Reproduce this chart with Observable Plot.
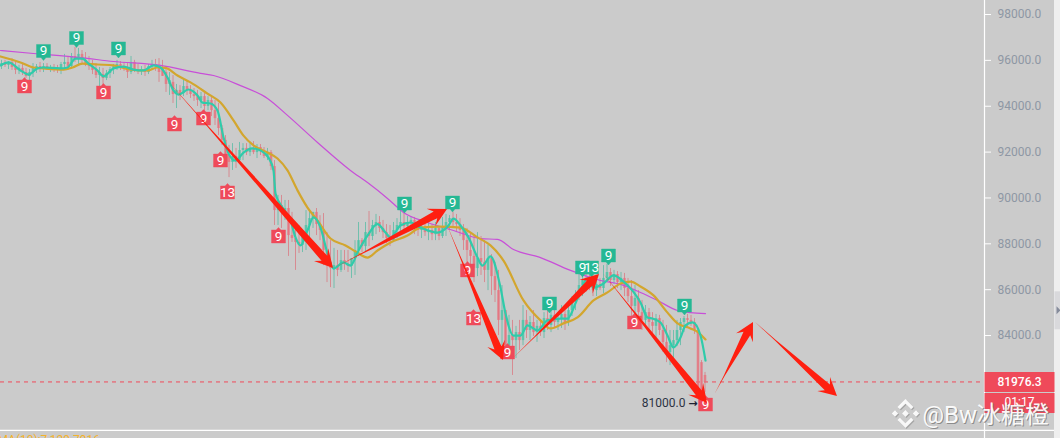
<!DOCTYPE html>
<html><head><meta charset="utf-8">
<style>html,body{margin:0;padding:0;background:#cbcbcb;overflow:hidden}svg{display:block}</style>
<script src="https://cdn.jsdelivr.net/npm/d3@7"></script>
<script src="https://cdn.jsdelivr.net/npm/@observablehq/plot@0.6"></script>
</head><body><div id="chart"></div>
<script>
const priceTicks = [98000,96000,94000,92000,90000,88000,86000,84000];
const lastPrice = 81976.3;
const countdown = "01:17";
const lowPrice = "81000.0";
const lowPointer = "→";
const maLabel = "MA(10):7,129.7916";

const opens = [
95730,95860,95780,95910,95690,95560,95650,95470,95300,95470,
95650,95730,95600,95730,95650,95690,95600,95560,95820,95910,
95730,96170,96040,96260,96000,95860,95730,95560,95340,95380,
95210,95430,95600,95730,95820,95730,95650,95470,95910,95560,
95510,95600,95470,95730,95820,95730,
95650,95470,94950,95040,94510,94690,94550,94860,94690,94510,
94420,94250,94420,93990,94250,93810,93460,93030,92510,91850,
91550,91810,91630,92070,92160,91980,92160,91980,92200,92030,
91810,91980,91370,89450,89670,89370,89540,88360,88230,88060,
87930,88360,88800,89100,89370,88840,88580,87710,87190,86920,
87050,86840,87270,87100,87010,87360,87710,88140,87880,88490,
88320,88800,88930,88670,88490,88230,88140,88580,88800,88930,
88750,88930,89020,88670,88580,88750,88490,88580,88400,88670,
88320,88750,88930,89100,88930,88840,88580,88140,87710,87450,
86920,87360,87190,86840,87360,86570,85960,84660,85090,83560,
84000,83780,84130,83780,84660,84220,84570,84130,84400,84130,
84740,84440,84880,84570,84740,84920,84570,85090,85530,85700,
86180,86400,86310,86140,85960,86230,86050,86490,86750,86400,
86660,86310,86490,86050,85700,85270,85620,85000,84660,85000,
84570,84400,84740,84220,83700,83260,83560,83780,84220,84570,
84740,84660,84570,84220,82820,82260];
const highs = [
96000,96000,95950,96080,95910,95780,95820,95650,95600,95860,
95820,95910,95860,95860,95780,95820,95780,95910,96260,96170,
96300,96560,96520,96430,96340,96170,96000,95860,95690,95650,
95560,95690,95820,96000,95950,95910,95860,96170,96000,95820,
95730,95780,95820,96000,96040,96080,
96000,95730,95470,95340,94950,94900,95210,95120,94900,94770,
94690,94600,94550,94420,94420,94250,94120,93160,92720,92290,
92370,92160,92420,92370,92370,92420,92460,92330,92330,92200,
92160,92070,91630,90110,90110,89890,89890,89370,88930,88800,
88580,89450,89450,89370,89540,89230,89320,88490,88140,87800,
87710,87710,87710,87710,87360,88140,88930,88230,88930,89410,
89020,89280,89190,89020,88840,88800,88930,89100,89630,89320,
89190,89190,89150,88970,88930,89020,88930,88840,88930,88750,
89150,89280,89230,89370,89280,89100,88840,88670,88490,88320,
88490,88320,88140,87930,87530,87190,86840,86180,85090,84880,
84660,84400,84660,85310,85090,84830,85090,84660,84660,85000,
85530,85620,85090,85000,85310,85090,85270,85700,85960,86750,
86750,86750,86620,86490,86400,86490,87050,87100,86920,86840,
86790,86750,86710,86490,86400,86180,85960,85530,85310,85180,
85000,84920,84880,84660,84440,84220,84220,84660,84740,84830,
84920,84880,84740,84310,82910,82390];
const lows = [
95600,95690,95600,95560,95380,95380,95340,95210,95080,95250,
95430,95470,95470,95560,95470,95470,95430,95380,95650,95560,
95650,95910,95820,95820,95730,95560,95380,95210,94860,94900,
95120,95210,95380,95560,95560,95520,95210,95380,95470,95380,
95340,95300,95380,95560,95520,95040,
95300,94600,94470,94120,93900,94250,94420,94470,94340,94210,
93990,93900,93730,93810,93550,93160,92720,92290,91630,90890,
91200,91290,91460,91630,91850,91810,91890,91720,91850,91720,
91630,91200,88800,88800,88670,89020,87450,88060,86840,87580,
87620,87710,88140,88670,88360,88140,87050,86310,86090,86050,
86570,86750,86840,86750,86490,86620,87450,87620,87620,87880,
88140,88400,88490,88230,88010,87880,88060,88230,88400,88490,
88580,88670,88400,88320,88230,88320,88140,88140,88140,88140,
88230,88320,88580,88750,88490,88320,87710,87190,86840,86310,
86570,86620,86310,85960,85750,85440,84000,83560,83000,83000,
82260,83000,83350,83560,83870,83780,83960,83700,83960,83870,
84220,84130,84310,84220,84310,84220,84400,84830,85090,85530,
85700,85880,85960,85700,85700,85960,85830,86310,86140,86230,
86050,85960,85700,85440,84830,84660,84570,84220,84310,84220,
84050,83870,84000,83260,82820,82690,82910,83520,83560,84130,
84310,84400,84050,81520,81000,81520];
const closes = [
95860,95780,95910,95690,95560,95650,95470,95300,95470,95650,
95730,95600,95730,95650,95690,95600,95560,95820,95910,95730,
96170,96040,96260,96000,95860,95730,95560,95340,95470,95210,
95430,95600,95730,95820,95730,95650,95470,95910,95560,95510,
95600,95470,95730,95820,95730,95470,
95300,94950,95120,94510,94690,94550,94860,94690,94510,94420,
94250,94420,93990,94250,93810,93460,93030,92510,91850,91550,
91810,91630,92070,92160,91980,92160,91980,92200,92030,91810,
91980,91370,89450,89670,89370,89540,88360,88230,88060,87930,
88360,88800,89100,89370,88840,88580,87710,87190,86920,87050,
86840,87270,87100,87010,87360,87710,88140,87880,88490,88320,
88800,88930,88670,88490,88230,88140,88580,88800,88930,88750,
88930,89020,88670,88580,88750,88490,88580,88400,88670,88320,
88750,88930,89100,88930,88840,88580,88140,87710,87450,86920,
87360,87190,86840,87360,86570,85960,84660,85090,83560,84000,
83780,84130,83780,84660,84220,84570,84130,84400,84130,84740,
84440,84880,84570,84740,84920,84570,85090,85530,85700,86180,
86400,86310,86140,85960,86230,86050,86490,86750,86400,86660,
86310,86490,86050,85700,85270,85620,85000,84660,85000,84570,
84400,84740,84220,83700,83260,83560,83780,84220,84570,84740,
84660,84570,84220,81600,81520,81950];

const fastTimes = [0,8,20,28,37,43,60,67,75,82,88,97,103,113,123,133,143,153,160,167,173,178,188,197,202,210,217,223,228,235,243,252,260,268,273,275,282,290,295,300,307,313,320,327,333,343,350,358,367,377,385,390,400,410,420,437,448,453,460,468,477,482,490,500,505,513,520,527,537,547,560,567,577,587,593,603,613,623,632,640,647,652,660,667,673,680,685,692,700,705];
const fastPrices = [95780,95910,95560,95380,95650,95690,95650,95690,96080,96080,95860,95560,95300,95650,95730,95600,95560,95780,95690,95250,94690,94510,94730,94470,94160,94120,93810,92640,91940,91630,91980,92160,92070,91760,91200,90190,89580,89020,88280,87930,88580,89150,88710,87580,86920,87190,87050,87710,88360,88860,88490,88280,88800,88930,88710,88490,88800,89100,88800,88280,87400,87050,87450,86090,84960,84000,84000,84440,84220,84660,84740,84740,85620,86490,86090,86270,86620,86350,85960,85440,84790,84740,84570,84000,83480,83910,84440,84570,84000,82910];

const slowTimes = [0,20,33,43,63,72,82,97,113,130,147,157,165,177,190,207,220,233,243,253,267,277,287,297,307,317,330,345,355,367,377,390,407,420,440,460,477,490,503,523,540,550,563,577,593,607,620,630,640,653,667,677,690,698,705];
const slowPrices = [96170,95910,95690,95650,95600,95690,95860,95820,95780,95600,95560,95690,95670,95340,95040,94550,94160,93380,92720,92290,91980,91720,91200,90330,89580,89020,88230,87930,87670,87400,87710,88060,88360,88710,88750,88710,88280,87930,87270,85530,84660,84310,84530,84790,85530,85880,86270,86350,86140,85750,85000,84530,84310,84130,83830];

const longTimes = [0,33,80,113,160,200,213,240,267,287,317,350,367,387,403,427,453,480,497,513,540,570,600,620,640,657,677,690,705];
const longPrices = [96430,96300,96120,95950,95780,95430,95340,94900,94340,93600,92420,91200,90670,89980,89370,88930,88580,88230,88190,87750,87400,86840,86400,86230,85880,85530,85090,85000,84960];

const sellBadgeTimes = [43,76,118,404,452,549,582,591,608,684];
const sellBadgePrices = [96410,96975,96520,89760,89800,85400,86970,86970,87490,85310];
const sellBadgeLabels = ["9","9","9","9","9","9","9","13","9","9"];
const buyBadgeTimes = [24,103,174,203,220,227,278,467,473,507,634,705];
const buyBadgePrices = [94860,94600,93200,93460,91630,90240,88320,86840,84740,83260,84570,80990];
const buyBadgeLabels = ["9","9","9","9","9","13","9","9","13","9","9","9"];

const arrowStartTimes = [167,336,447,513,603,715,755];
const arrowStartPrices = [95120,86970,88800,83000,86700,81470,84570];
const arrowEndTimes = [333,447,503,599,707,753,837];
const arrowEndPrices = [86920,89500,82910,86660,81040,84570,81340];

const barStep = 3.5;
const bars = opens.map((o,i)=>({t:1+i*barStep,o,h:highs[i],l:lows[i],c:closes[i]}));
const up = bars.filter(d=>d.c>=d.o), down = bars.filter(d=>d.c<d.o);
const arrows = arrowStartTimes.map((t,i)=>({t1:t,p1:arrowStartPrices[i],t2:arrowEndTimes[i],p2:arrowEndPrices[i]}));
const sellBadges = sellBadgeTimes.map((t,i)=>({t,p:sellBadgePrices[i],s:sellBadgeLabels[i]}));
const buyBadges = buyBadgeTimes.map((t,i)=>({t,p:buyBadgePrices[i],s:buyBadgeLabels[i]}));

const sellSymbol = {draw(c){c.moveTo(-7,-6.5);c.lineTo(7,-6.5);c.lineTo(7,6.5);c.lineTo(2.5,6.5);c.lineTo(0,9.5);c.lineTo(-2.5,6.5);c.lineTo(-7,6.5);c.closePath();}};
const buySymbol = {draw(c){c.moveTo(-7,-6.5);c.lineTo(-2.5,-6.5);c.lineTo(0,-9);c.lineTo(2.5,-6.5);c.lineTo(7,-6.5);c.lineTo(7,6.5);c.lineTo(-7,6.5);c.closePath();}};
const priceBox = {draw(c){c.rect(-35,-10,70,20);}};
const logo = {draw(c){
  const d=(x,y,r)=>{c.moveTo(x,y-r);c.lineTo(x+r,y);c.lineTo(x,y+r);c.lineTo(x-r,y);c.closePath();};
  d(0,0,3.4);d(-10.5,0,3.2);d(10.5,0,3.2);
  const chev=s=>{c.moveTo(0,s*14.5);c.lineTo(8,s*6.5);c.lineTo(5.6,s*4.2);c.lineTo(0,s*9.8);c.lineTo(-5.6,s*4.2);c.lineTo(-8,s*6.5);c.closePath();};
  chev(-1);chev(1);
}};

function taperedArrow(index,scales,values){
  const g=d3.create("svg:g");
  for(const i of index){
    const x1=values.x1[i],y1=values.y1[i],x2=values.x2[i],y2=values.y2[i];
    const L=Math.hypot(x2-x1,y2-y1),a=Math.atan2(y2-y1,x2-x1),cs=Math.cos(a),sn=Math.sin(a);
    const pts=[[0,0],[L*.25,.5],[L-13,3.8],[L-18,9.5],[L,0],[L-18,-9.5],[L-13,-3.8],[L*.25,-.5]].map(([u,v])=>[x1+u*cs-v*sn,y1+u*sn+v*cs].join(","));
    g.append("polygon").attr("points",pts.join(" ")).attr("fill","#ff1f10");
  }
  return g.node();
}

const tickColor="#8e97a4", font="Roboto, sans-serif";
const chart=Plot.plot({
  width:1060,height:438,marginTop:0,marginBottom:0,marginLeft:0,marginRight:76,
  style:{background:"#cbcbcb",fontFamily:font},
  x:{domain:[0,984],range:[0,984],axis:null},
  y:{domain:[79510,98611],range:[438,0],axis:null},
  marks:[
    Plot.rect([0],{x1:1054,x2:1060,fill:"#efefef"}),
    Plot.dot([0],{x:1060,y:85100,symbol:{draw(c){c.rect(-6,-19,6,38);}},fill:"#d9d9dc"}),
    Plot.dot([0],{x:1057.5,y:85100,symbol:{draw(c){c.moveTo(-1.5,-4);c.lineTo(2.5,0);c.lineTo(-1.5,4);c.closePath();}},fill:"#858b9b"}),
    Plot.ruleX([984],{stroke:"#ffffff",strokeWidth:1.2}),
    Plot.ruleY([79860],{x1:0,x2:1054,stroke:"#ffffff",strokeWidth:1.2}),
    Plot.axisY({anchor:"right",ticks:priceTicks,tickFormat:d=>d.toFixed(1),stroke:"#ffffff",fill:tickColor,tickSize:6,tickPadding:7,fontSize:12,label:null,textStroke:"none"}),
    Plot.ruleY([lastPrice],{x1:0,x2:984,stroke:"#f04a5a",strokeWidth:1,strokeDasharray:"4,4"}),

    Plot.ruleX(down,{x:"t",y1:"l",y2:"h",stroke:"#e0606c",strokeWidth:1,strokeOpacity:.6}),
    Plot.ruleX(up,{x:"t",y1:"l",y2:"h",stroke:"#35b899",strokeWidth:1,strokeOpacity:.6}),
    Plot.ruleX(down,{x:"t",y1:"o",y2:"c",stroke:"#e8707c",strokeWidth:2.6,strokeOpacity:.75}),
    Plot.ruleX(up,{x:"t",y1:"o",y2:"c",stroke:"#45c4a6",strokeWidth:2.6,strokeOpacity:.75}),

    Plot.line(longPrices,{x:longTimes,y:longPrices,stroke:"#c84fd8",strokeWidth:1.2,curve:"monotone-x"}),
    Plot.line(slowPrices,{x:slowTimes,y:slowPrices,stroke:"#d3a62e",strokeWidth:2.2,curve:"monotone-x"}),
    Plot.line(fastPrices,{x:fastTimes,y:fastPrices,stroke:"#2fcbaa",strokeWidth:2.2,curve:"monotone-x"}),

    Plot.dot(sellBadges,{x:"t",y:"p",r:7,symbol:sellSymbol,fill:"#25b894",stroke:"#25b894",strokeOpacity:.4,strokeWidth:1}),
    Plot.text(sellBadges,{x:"t",y:"p",text:"s",fill:"#ffffff",fontSize:13.5,fontFamily:font}),
    Plot.dot(buyBadges,{x:"t",y:"p",r:7,symbol:buySymbol,fill:"#ef4a5a",stroke:"#ef4a5a",strokeOpacity:.4,strokeWidth:1}),
    Plot.text(buyBadges,{x:"t",y:"p",text:"s",fill:"#ffffff",fontSize:13.5,fontFamily:font}),

    Plot.text([lowPrice],{x:685,y:81040,text:d=>d,textAnchor:"end",fill:"#2b3344",fontSize:12,fontFamily:font}),
    Plot.text([lowPointer],{x:697,y:81040,text:d=>d,textAnchor:"end",fill:"#1c2233",fontSize:11,fontWeight:700,fontFamily:"DejaVu Sans"}),

    Plot.link(arrows,{x1:"t1",y1:"p1",x2:"t2",y2:"p2",stroke:"#ff1f10",render:taperedArrow}),

    Plot.dot([0],{x:1019,y:lastPrice,symbol:priceBox,fill:"#ef4a5a"}),
    Plot.dot([0],{x:1019,y:lastPrice,symbol:priceBox,fill:"#ef4a5a",dy:21}),
    Plot.text([lastPrice],{x:1019,y:lastPrice,text:d=>d.toFixed(1),fill:"#ffffff",fontSize:12,fontWeight:500,fontFamily:font}),
    Plot.text([countdown],{x:1019,y:lastPrice,dy:20,text:d=>d,fill:"#ffffff",fontSize:12,fontFamily:font}),

    Plot.dot([0],{x:905,y:80600,dx:1,dy:1,symbol:logo,fill:"#8c8c8c",fillOpacity:.6}),
    Plot.dot([0],{x:905,y:80600,symbol:logo,fill:"#ffffff",fillOpacity:.92}),
    Plot.text(["@Bw冰糖橙"],{x:922,y:80500,dx:1,dy:1,text:d=>d,textAnchor:"start",fill:"#777777",fillOpacity:.75,fontSize:24,fontFamily:"Roboto, 'Noto Sans CJK SC', sans-serif"}),
    Plot.text(["@Bw冰糖橙"],{x:922,y:80500,text:d=>d,textAnchor:"start",fill:"#ffffff",fillOpacity:.95,fontSize:24,fontFamily:"Roboto, 'Noto Sans CJK SC', sans-serif"}),

    Plot.text([maLabel],{frameAnchor:"bottom-left",dx:-3,dy:5,text:d=>d,fill:"#f5b32a",fontSize:12,fontFamily:font})
  ]
});
document.getElementById("chart").appendChild(chart);
</script></body></html>
